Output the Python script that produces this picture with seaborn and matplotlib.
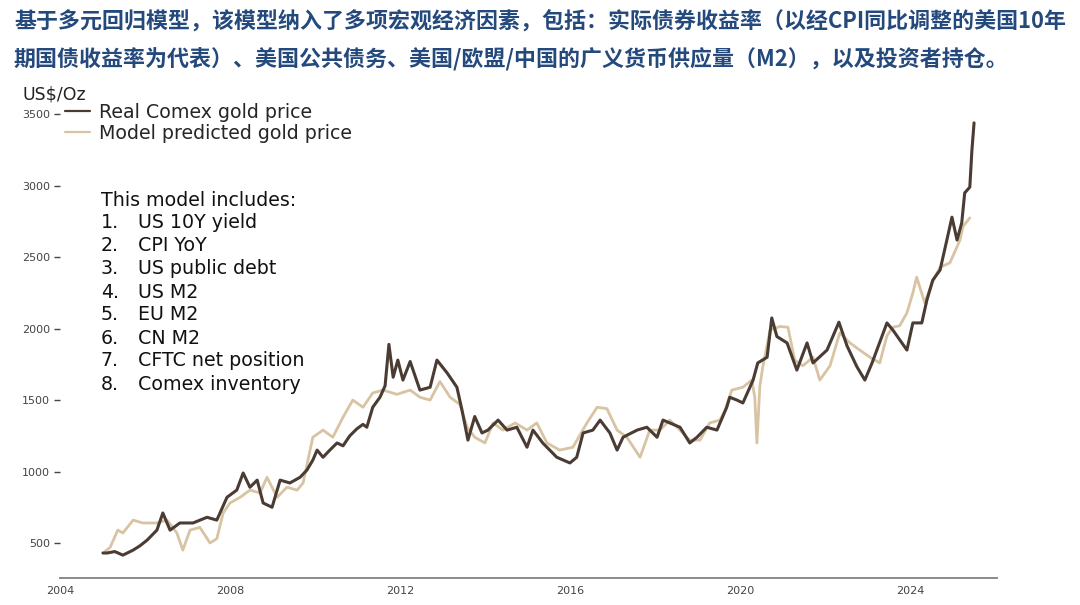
import matplotlib
matplotlib.use("Agg")
import matplotlib.pyplot as plt
import pandas as pd
import seaborn as sns

# Real Comex gold price (US$/Oz)
real_year = [2005.01, 2005.11, 2005.29, 2005.48, 2005.72, 2005.88, 2006.05, 2006.28, 2006.42, 2006.59,
             2006.82, 2007.13, 2007.46, 2007.69, 2007.93, 2008.16, 2008.31, 2008.47, 2008.64, 2008.78,
             2008.99, 2009.18, 2009.41, 2009.65, 2009.81, 2009.95, 2010.05, 2010.19, 2010.35, 2010.52,
             2010.66, 2010.82, 2010.99, 2011.13, 2011.22, 2011.36, 2011.53, 2011.65, 2011.74, 2011.84,
             2011.95, 2012.07, 2012.24, 2012.47, 2012.71, 2012.87, 2013.11, 2013.34, 2013.46, 2013.60,
             2013.76, 2013.93, 2014.07, 2014.31, 2014.52, 2014.75, 2014.99, 2015.13, 2015.36, 2015.69,
             2016.00, 2016.16, 2016.31, 2016.54, 2016.71, 2016.94, 2017.11, 2017.25, 2017.58, 2017.81,
             2018.05, 2018.19, 2018.35, 2018.59, 2018.82, 2018.99, 2019.22, 2019.46, 2019.69, 2019.76,
             2019.93, 2020.07, 2020.16, 2020.31, 2020.42, 2020.64, 2020.75, 2020.87, 2021.11, 2021.34,
             2021.58, 2021.72, 2022.05, 2022.33, 2022.52, 2022.75, 2022.94, 2023.11, 2023.46, 2023.60,
             2023.93, 2024.07, 2024.28, 2024.40, 2024.54, 2024.71, 2024.87, 2024.99, 2025.11, 2025.22,
             2025.29, 2025.41, 2025.46, 2025.51]
real_price = [430, 430, 440, 415, 450, 480, 520, 590, 710, 590,
              640, 640, 680, 660, 820, 870, 990, 890, 940, 780,
              750, 940, 920, 960, 1010, 1080, 1150, 1100, 1150, 1200,
              1180, 1250, 1300, 1330, 1310, 1450, 1520, 1600, 1890, 1660,
              1780, 1640, 1770, 1570, 1590, 1780, 1690, 1590, 1430, 1220,
              1385, 1270, 1290, 1360, 1290, 1310, 1170, 1290, 1200, 1100,
              1060, 1100, 1270, 1290, 1360, 1270, 1150, 1240, 1290, 1310,
              1240, 1360, 1340, 1310, 1200, 1240, 1310, 1290, 1450, 1520,
              1500, 1480, 1540, 1640, 1760, 1800, 2075, 1945, 1900, 1710,
              1900, 1760, 1850, 2045, 1880, 1735, 1640, 1760, 2040, 1990,
              1850, 2040, 2040, 2200, 2340, 2410, 2620, 2780, 2620, 2740,
              2950, 2990, 3250, 3440]

# Model predicted gold price
model_year = [2005.06, 2005.18, 2005.36, 2005.48, 2005.72, 2005.95, 2006.28, 2006.52, 2006.75, 2006.89,
              2007.06, 2007.29, 2007.53, 2007.69, 2007.84, 2008.00, 2008.24, 2008.47, 2008.71, 2008.87,
              2009.11, 2009.34, 2009.58, 2009.72, 2009.95, 2010.19, 2010.42, 2010.66, 2010.89, 2011.13,
              2011.36, 2011.60, 2011.93, 2012.24, 2012.47, 2012.71, 2012.94, 2013.18, 2013.41, 2013.58,
              2013.76, 2014.00, 2014.19, 2014.42, 2014.71, 2014.99, 2015.22, 2015.46, 2015.76, 2016.07,
              2016.40, 2016.64, 2016.87, 2017.11, 2017.34, 2017.65, 2017.88, 2018.12, 2018.35, 2018.59,
              2018.82, 2019.06, 2019.29, 2019.53, 2019.65, 2019.81, 2020.07, 2020.28, 2020.35, 2020.40,
              2020.47, 2020.54, 2020.71, 2020.94, 2021.13, 2021.29, 2021.48, 2021.72, 2021.88, 2022.12,
              2022.35, 2022.59, 2022.82, 2023.06, 2023.29, 2023.46, 2023.60, 2023.76, 2023.93, 2024.07,
              2024.16, 2024.35, 2024.52, 2024.71, 2024.94, 2025.18, 2025.25, 2025.41]
model_price = [440, 470, 590, 570, 660, 640, 640, 660, 570, 450,
               590, 610, 500, 530, 710, 780, 820, 870, 850, 960,
               820, 890, 870, 920, 1240, 1290, 1240, 1380, 1500, 1450,
               1550, 1570, 1540, 1570, 1520, 1500, 1630, 1520, 1470, 1310,
               1240, 1200, 1340, 1290, 1340, 1290, 1340, 1200, 1150, 1170,
               1340, 1450, 1440, 1290, 1240, 1100, 1290, 1290, 1360, 1290,
               1220, 1220, 1340, 1360, 1430, 1570, 1590, 1640, 1520, 1200,
               1600, 1735, 1990, 2015, 2010, 1780, 1740, 1800, 1640, 1740,
               1970, 1900, 1850, 1800, 1760, 1950, 2010, 2020, 2110, 2250,
               2360, 2180, 2320, 2430, 2460, 2620, 2715, 2775]

y_ticks = [500, 1000, 1500, 2000, 2500, 3000, 3500]
x_ticks = [2004, 2008, 2012, 2016, 2020, 2024]

factors = ["US 10Y yield", "CPI YoY", "US public debt", "US M2",
           "EU M2", "CN M2", "CFTC net position", "Comex inventory"]

title_lines = ["基于多元回归模型，该模型纳入了多项宏观经济因素，包括：实际债券收益率（以经CPI同比调整的美国10年",
               "期国债收益率为代表）、美国公共债务、美国/欧盟/中国的广义货币供应量（M2），以及投资者持仓。"]

real_color = "#4a3b33"
model_color = "#d8c3a2"

sns.set_style("white")
plt.rcParams["font.family"] = ["DejaVu Sans"]

df_real = pd.DataFrame({"year": real_year, "price": real_price})
df_model = pd.DataFrame({"year": model_year, "price": model_price})

fig = plt.figure(figsize=(10.8, 6.05), dpi=100)
W, H = 1080, 605
ax = fig.add_axes([60 / W, 1 - 578 / H, (997 - 60) / W, (578 - 100) / H])

sns.lineplot(data=df_model, x="year", y="price", sort=False, estimator=None,
             color=model_color, lw=2.0, ax=ax, label="Model predicted gold price")
sns.lineplot(data=df_real, x="year", y="price", sort=False, estimator=None,
             color=real_color, lw=2.2, ax=ax, label="Real Comex gold price")

ax.set_xlim(2004, 2026.05)
ax.set_ylim(255, 3600)
ax.set_xticks(x_ticks)
ax.set_yticks(y_ticks)
ax.set_xlabel("")
ax.set_ylabel("")
for s in ["left", "right", "top"]:
    ax.spines[s].set_visible(False)
ax.spines["bottom"].set_color("#8a8a8a")
ax.spines["bottom"].set_linewidth(1.4)
ax.tick_params(axis="y", length=4, width=1, color="#444444", pad=3,
               labelsize=8, labelcolor="#444444", left=True)
ax.tick_params(axis="x", length=0, pad=6, labelsize=8, labelcolor="#444444")

# legend: real first
handles, labels = ax.get_legend_handles_labels()
leg = ax.legend(handles[::-1], labels[::-1], loc="center left",
                bbox_to_anchor=(65 / W, 1 - 123 / H), bbox_transform=fig.transFigure,
                frameon=False, fontsize=13.7, handlelength=1.3, handletextpad=0.5,
                labelspacing=0.1, borderaxespad=0.0, borderpad=0.0)
for ln in leg.get_lines():
    ln.set_linewidth(1.6)

fig.text(22 / W, 1 - 95 / H, "US\\$/Oz", fontsize=12.5, va="center", ha="left", color="#222222")

fig.text(101 / W, 1 - 200 / H, "This model includes:", fontsize=13.7, va="center", color="#111111")
for i, f in enumerate(factors):
    yy = 1 - (223 + 23 * i) / H
    fig.text(101 / W, yy, f"{i + 1}.", fontsize=13.7, va="center", color="#111111")
    fig.text(138 / W, yy, f, fontsize=13.7, va="center", color="#111111")

for i, t in enumerate(title_lines):
    fig.text(14 / W, 1 - (22 + 38 * i) / H, t, fontsize=15.8, fontweight="bold",
             color="#24497d", va="center", ha="left",
             family=["Noto Sans CJK SC", "DejaVu Sans"])

fig.savefig("out.png", dpi=100)
